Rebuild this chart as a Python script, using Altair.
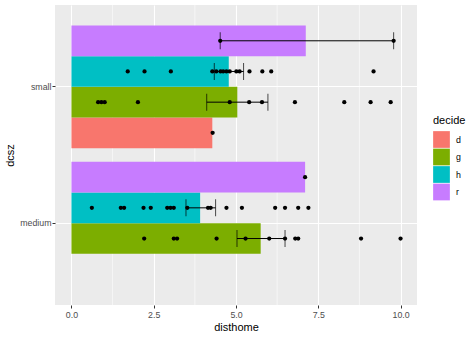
import altair as alt
import pandas as pd

FONT = "Liberation Sans"

size_cats = ["small", "medium"]
decide_cats = ["d", "g", "h", "r"]
offset_order = ["r", "h", "g", "d"]
fill_colors = ["#F8766D", "#7CAE00", "#00BFC4", "#C77CFF"]

x_ticks = [0, 2.5, 5, 7.5, 10]
x_minor = [1.25, 3.75, 6.25, 8.75]

# bar means
bar_dcsz = ["small", "small", "small", "small", "medium", "medium", "medium"]
bar_decide = ["d", "g", "h", "r", "g", "h", "r"]
bar_mean = [4.28, 5.04, 4.78, 7.12, 5.75, 3.91, 7.10]

# error bars (mean +/- se)
err_dcsz = ["small", "small", "small", "medium", "medium"]
err_decide = ["g", "h", "r", "g", "h"]
err_lo = [4.11, 4.34, 4.52, 5.03, 3.48]
err_hi = [5.97, 5.23, 9.79, 6.49, 4.38]

# individual observations
small_d = [4.29]
small_g = [0.81, 0.91, 1.01, 2.02, 4.81, 5.40, 5.79, 6.79, 8.29, 9.09, 9.70]
small_h = [1.71, 2.22, 3.02, 4.28, 4.40, 4.53, 4.61, 4.71, 4.81, 5.01, 5.11,
           5.41, 5.80, 6.07, 9.18]
small_r = [4.52, 9.79]
medium_g = [2.21, 3.11, 3.21, 4.41, 5.29, 6.01, 6.49, 6.80, 6.89, 8.80, 10.0]
medium_h = [0.62, 1.50, 1.60, 2.19, 2.41, 2.91, 3.01, 3.11, 3.52, 4.15, 4.23,
            4.71, 5.18, 6.19, 6.49, 6.89, 7.20]
medium_r = [7.10]

groups = [
    ("small", "d", small_d), ("small", "g", small_g), ("small", "h", small_h),
    ("small", "r", small_r), ("medium", "g", medium_g), ("medium", "h", medium_h),
    ("medium", "r", medium_r),
]
pts = pd.DataFrame(
    [{"dcsz": s, "decide": d, "disthome": v} for s, d, vals in groups for v in vals]
)
bars = pd.DataFrame({"dcsz": bar_dcsz, "decide": bar_decide, "disthome": bar_mean})
errs = pd.DataFrame({"dcsz": err_dcsz, "decide": err_decide, "lo": err_lo, "hi": err_hi})
minor = pd.DataFrame({"m": x_minor})

xscale = alt.Scale(domain=[-0.5, 10.5], nice=False, zero=False)
yscale = alt.Scale(domain=size_cats, paddingInner=0.1, paddingOuter=0.15)
oscale = alt.Scale(domain=offset_order, paddingInner=0, paddingOuter=0)

xaxis = alt.Axis(
    values=x_ticks, format=".1f", title="disthome", grid=True,
    gridColor="white", gridWidth=1.1, domain=False,
    tickColor="#333333", tickSize=3, tickWidth=1,
    labelColor="#4D4D4D", labelFont=FONT, labelFontSize=8.8, labelPadding=2,
    titleFont=FONT, titleFontSize=11, titleFontWeight="normal", titleColor="black",
    titlePadding=3,
)
yaxis = alt.Axis(
    title="dcsz", grid=True, gridColor="white", gridWidth=1.1, bandPosition=0.5,
    domain=False, tickColor="#333333", tickSize=3, tickWidth=1,
    labelColor="#4D4D4D", labelFont=FONT, labelFontSize=8.8, labelPadding=1,
    titleFont=FONT, titleFontSize=11, titleFontWeight="normal", titleColor="black",
    titlePadding=4,
)

minor_layer = alt.Chart(minor).mark_rule(color="white", strokeWidth=0.55).encode(
    x=alt.X("m:Q", scale=xscale, axis=xaxis)
)

bar_layer = alt.Chart(bars).mark_bar(stroke=None).encode(
    x=alt.X("disthome:Q", scale=xscale, axis=xaxis),
    y=alt.Y("dcsz:N", scale=yscale, axis=yaxis),
    yOffset=alt.YOffset("decide:N", scale=oscale),
    color=alt.Color(
        "decide:N",
        scale=alt.Scale(domain=decide_cats, range=fill_colors),
        legend=alt.Legend(
            title="decide", orient="none", legendX=378, legendY=110,
            symbolType="square", symbolSize=280, symbolStrokeWidth=0,
            symbolOpacity=1, rowPadding=0.5, padding=0,
            titleFont=FONT, titleFontSize=11, titleFontWeight="normal",
            titleColor="black", titlePadding=5,
            labelFont=FONT, labelFontSize=8.8, labelColor="black", labelOffset=6,
        ),
    ),
)

err_layer = alt.Chart(errs).mark_rule(color="black", strokeWidth=1).encode(
    x=alt.X("lo:Q", scale=xscale),
    x2="hi:Q",
    y=alt.Y("dcsz:N", scale=yscale),
    yOffset=alt.YOffset("decide:N", scale=oscale),
)

cap_layer = alt.Chart(errs).transform_fold(["lo", "hi"], as_=["end", "val"]).mark_tick(
    color="black", thickness=1, size=17, orient="vertical"
).encode(
    x=alt.X("val:Q", scale=xscale),
    y=alt.Y("dcsz:N", scale=yscale),
    yOffset=alt.YOffset("decide:N", scale=oscale),
)

pt_layer = alt.Chart(pts).mark_circle(color="black", size=18, opacity=1).encode(
    x=alt.X("disthome:Q", scale=xscale),
    y=alt.Y("dcsz:N", scale=yscale),
    yOffset=alt.YOffset("decide:N", scale=oscale),
)

chart = alt.layer(minor_layer, bar_layer, err_layer, cap_layer, pt_layer).properties(
    width=362, height=300,
    autosize=alt.AutoSizeParams(type="none"),
    padding={"left": 55, "top": 5, "right": 57, "bottom": 33},
    background="white",
).configure_view(fill="#EBEBEB", stroke=None)

chart.save("out.html", embed_options={"renderer": "svg", "actions": False})
